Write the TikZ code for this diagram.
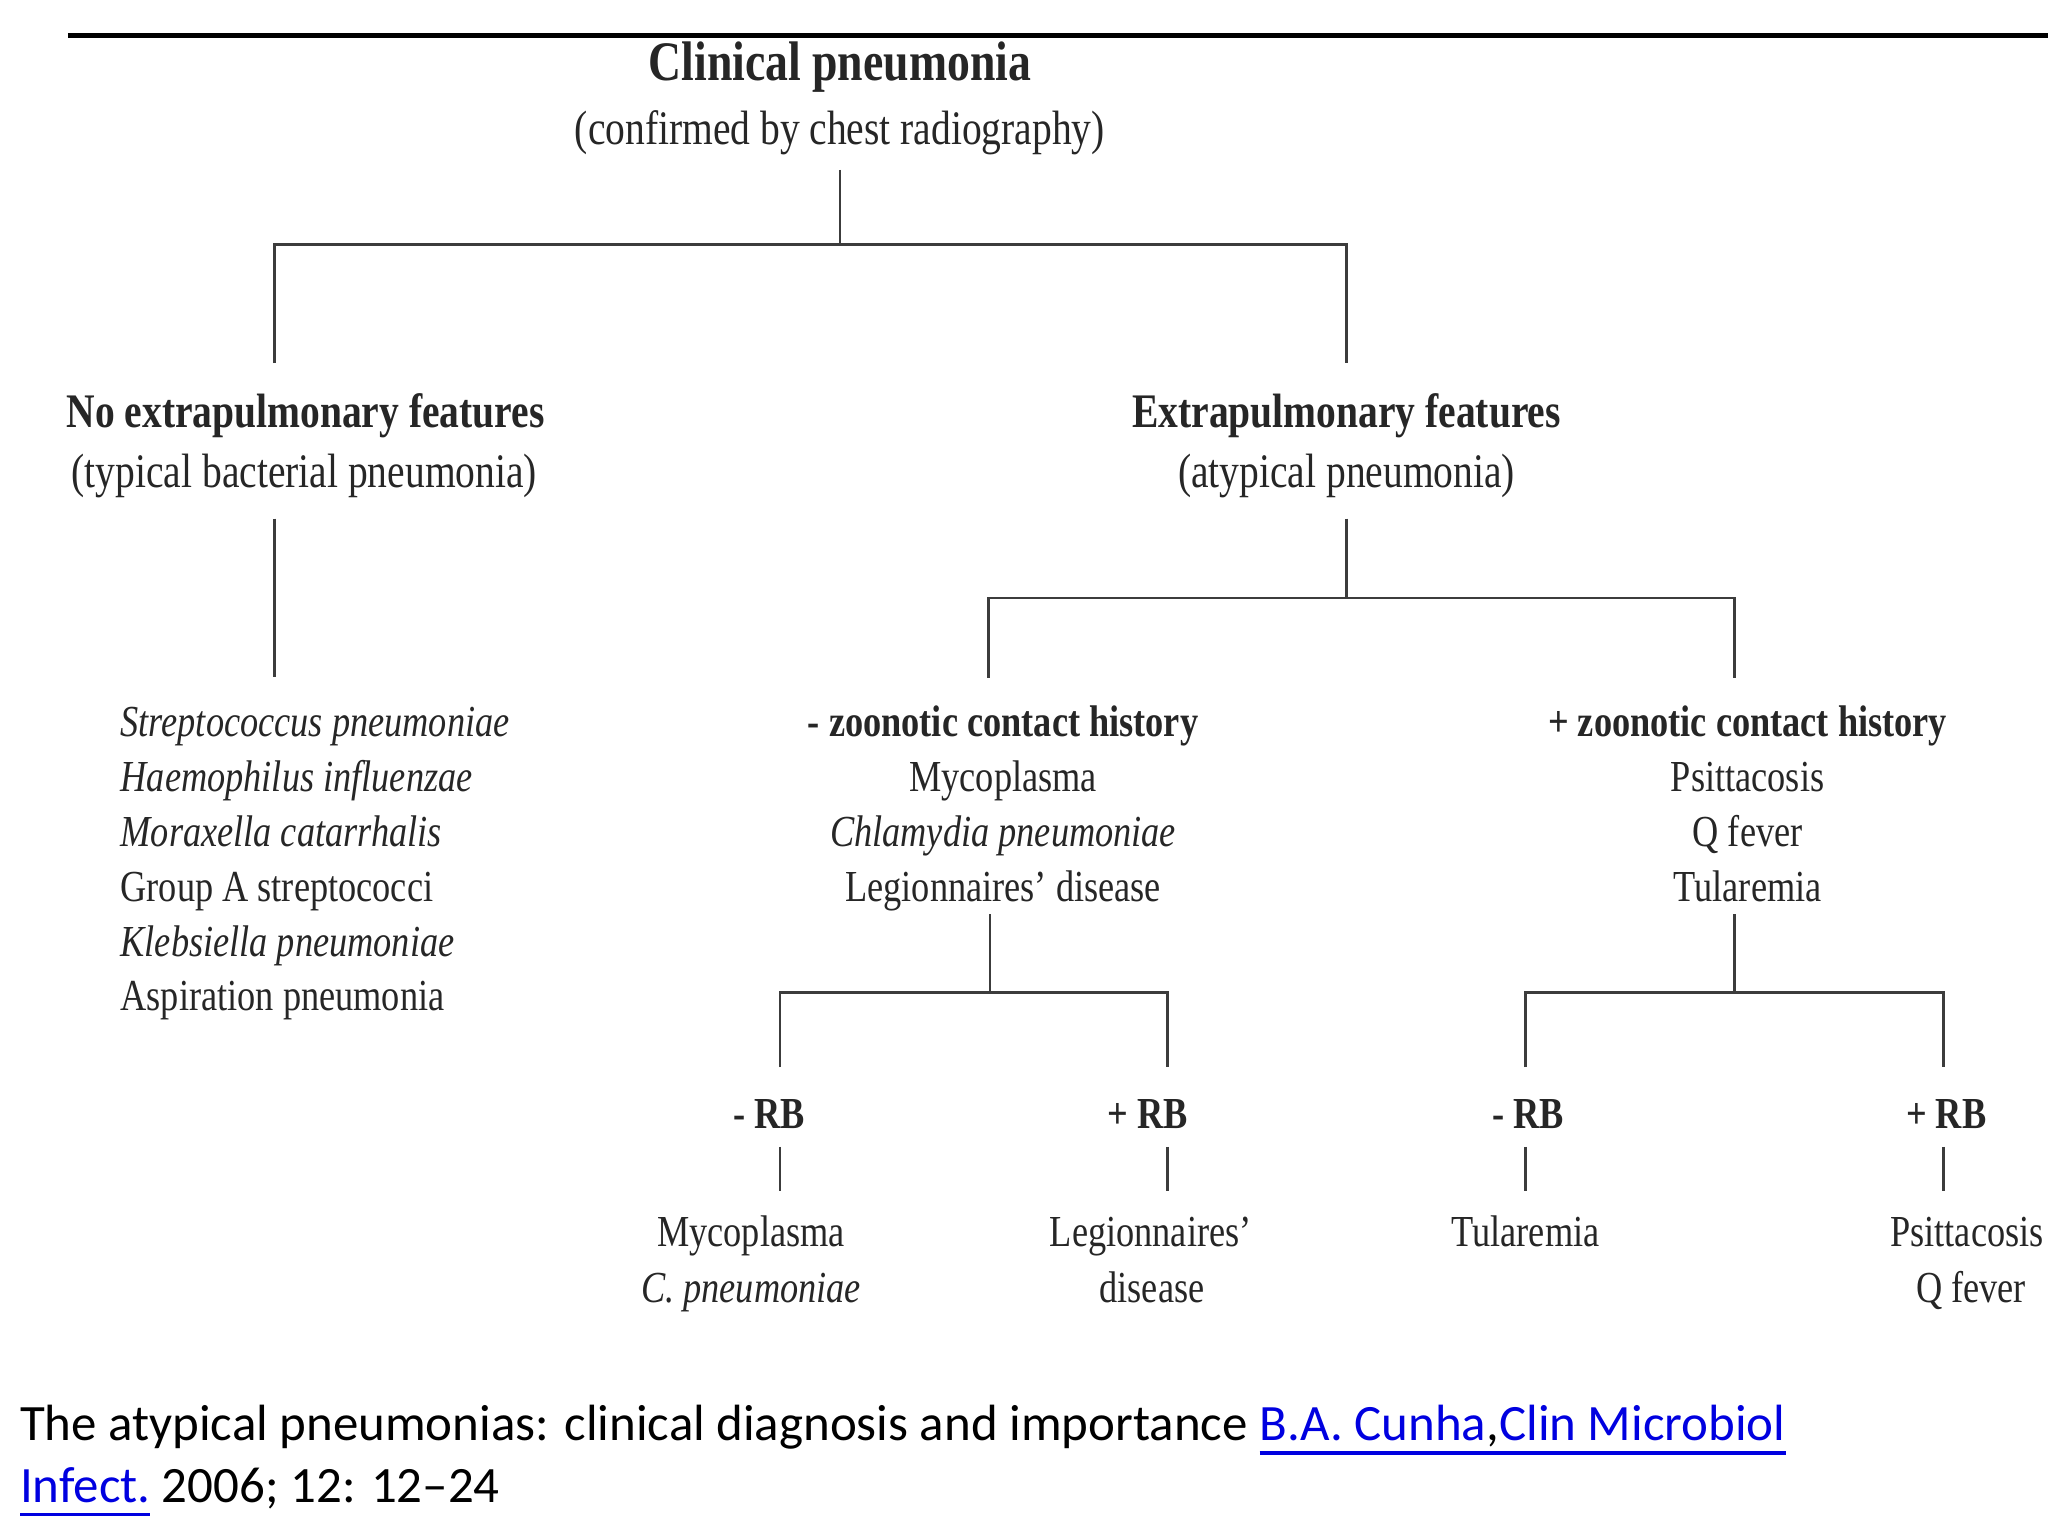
\documentclass[tikz,border=0pt]{standalone}
\usepackage{fontspec}
\usetikzlibrary{calc}
\newfontfamily\diagfont[FakeStretch=0.82]{Liberation Serif}
\newfontfamily\capfont{Carlito}
\definecolor{ink}{HTML}{262626}
\definecolor{linecol}{HTML}{3C3C3C}
\definecolor{linkblue}{HTML}{0000E0}
\newcommand\lnk[1]{\setbox0\hbox{#1}\rlap{\rule[-6.2pt]{\wd0}{1.5pt}}\box0}
\tikzset{
  txt/.style={inner sep=0pt, anchor=base, text=ink, font=\diagfont\fontsize{21}{25}\selectfont},
  hd/.style={txt, font=\diagfont\fontsize{21}{25}\selectfont\bfseries},
  sm/.style={txt, font=\diagfont\fontsize{19.3}{23}\selectfont},
  smhd/.style={txt, font=\diagfont\fontsize{19.3}{23}\selectfont\bfseries},
  smit/.style={txt, font=\diagfont\fontsize{19.3}{23}\selectfont\itshape},
  title/.style={txt, font=\diagfont\fontsize{24.3}{28}\selectfont\bfseries},
  lst/.style={sm, anchor=base west},
  lsti/.style={smit, anchor=base west},
  conn/.style={draw=linecol, line width=1.1pt},
  captxt/.style={inner sep=0pt, anchor=base west, text=black, font=\capfont\fontsize{22.2}{26}\selectfont}
}
\begin{document}
\begin{tikzpicture}[x=0.02cm,y=-0.02cm]
\useasboundingbox (0,0) rectangle (1568,1176);
\fill[white] (0,0) rectangle (1568,1176);
\draw[line width=2.3pt, black] (52,27) -- (1572,27);

% root
\node[title] (root1) at (643,62) {Clinical pneumonia};
\node[txt] (root2) at (643,111) {(confirmed by chest radiography)};

% level 1
\node[hd] (noA) at (234,327) {No extrapulmonary features};
\node[txt] (noB) at (233,373) {(typical bacterial pneumonia)};
\node[hd] (exA) at (1031,327) {Extrapulmonary features};
\node[txt] (exB) at (1031,373) {(atypical pneumonia)};

% typical list
\node[lsti] (l1) at (92,564) {Streptococcus pneumoniae};
\node[lsti] (l2) at (92,606) {Haemophilus influenzae};
\node[lsti] (l3) at (92,648) {Moraxella catarrhalis};
\node[lst]  (l4) at (92,690) {Group A streptococci};
\node[lsti] (l5) at (92,732) {Klebsiella pneumoniae};
\node[lst]  (l6) at (92,774) {Aspiration pneumonia};

% zoonotic
\node[smhd] (zm1) at (768,564) {- zoonotic contact history};
\node[sm]   (zm2) at (768,606) {Mycoplasma};
\node[smit] (zm3) at (768,648) {Chlamydia pneumoniae};
\node[sm]   (zm4) at (768,690) {Legionnaires’ disease};
\node[smhd] (zp1) at (1338,564) {+ zoonotic contact history};
\node[sm]   (zp2) at (1338,606) {Psittacosis};
\node[sm]   (zp3) at (1338,648) {Q fever};
\node[sm]   (zp4) at (1338,690) {Tularemia};

% RB
\node[smhd] (rb1) at (589,864) {- RB};
\node[smhd] (rb2) at (879,864) {+ RB};
\node[smhd] (rb3) at (1170,864) {- RB};
\node[smhd] (rb4) at (1490,864) {+ RB};

% bottom
\node[sm]   (b1a) at (575,954) {Mycoplasma};
\node[smit] (b1b) at (575,997) {C. pneumoniae};
\node[sm]   (b2a) at (881,954) {Legionnaires’};
\node[sm]   (b2b) at (882,997) {disease};
\node[sm]   (b3a) at (1168,954) {Tularemia};
\node[sm]   (b4a) at (1506,954) {Psittacosis};
\node[sm]   (b4b) at (1509,997) {Q fever};

% junctions
\coordinate (J1) at (643,187);
\coordinate (J2) at (1031,458);
\coordinate (J3) at (758,760);
\coordinate (J4) at (1328,760);

% connectors
\draw[conn] ($(root2.base)+(0,19)$) -- (J1);
\draw[conn] ($(noA.base)+(-24,-49)$) |- (J1) -| ($(exA.base)+(0,-49)$);
\draw[conn] ($(noB.base)+(-23,24)$) -- ($(l1.base west)+(118,-46)$);
\draw[conn] ($(exB.base)+(0,24)$) -- (J2);
\draw[conn] ($(zm1.base)+(-11,-45)$) |- (J2) -| ($(zp1.base)+(-10,-45)$);
\draw[conn] ($(zm4.base)+(-10,10)$) -- (J3);
\draw[conn] ($(rb1.base)+(8,-47)$) |- (J3) -| ($(rb2.base)+(15,-47)$);
\draw[conn] ($(zp4.base)+(-10,10)$) -- (J4);
\draw[conn] ($(rb3.base)+(-2,-47)$) |- (J4) -| ($(rb4.base)+(-2,-47)$);
\draw[conn] ($(rb1.base)+(8,14)$) -- ($(b1a.base)+(22,-42)$);
\draw[conn] ($(rb2.base)+(15,14)$) -- ($(b2a.base)+(13,-42)$);
\draw[conn] ($(rb3.base)+(-2,14)$) -- ($(b3a.base)+(0,-42)$);
\draw[conn] ($(rb4.base)+(-2,14)$) -- ($(b4a.base)+(-18,-42)$);

% caption
\node[captxt] (cap1) at (15,1103) {The atypical pneumonias: clinical diagnosis and importance \textcolor{linkblue}{\lnk{B.A. Cunha\textcolor{black}{,}Clin Microbiol}}};
\node[captxt] (cap2) at (15,1150) {\textcolor{linkblue}{\lnk{Infect.}} 2006; 12: 12–24};
\end{tikzpicture}
\end{document}
